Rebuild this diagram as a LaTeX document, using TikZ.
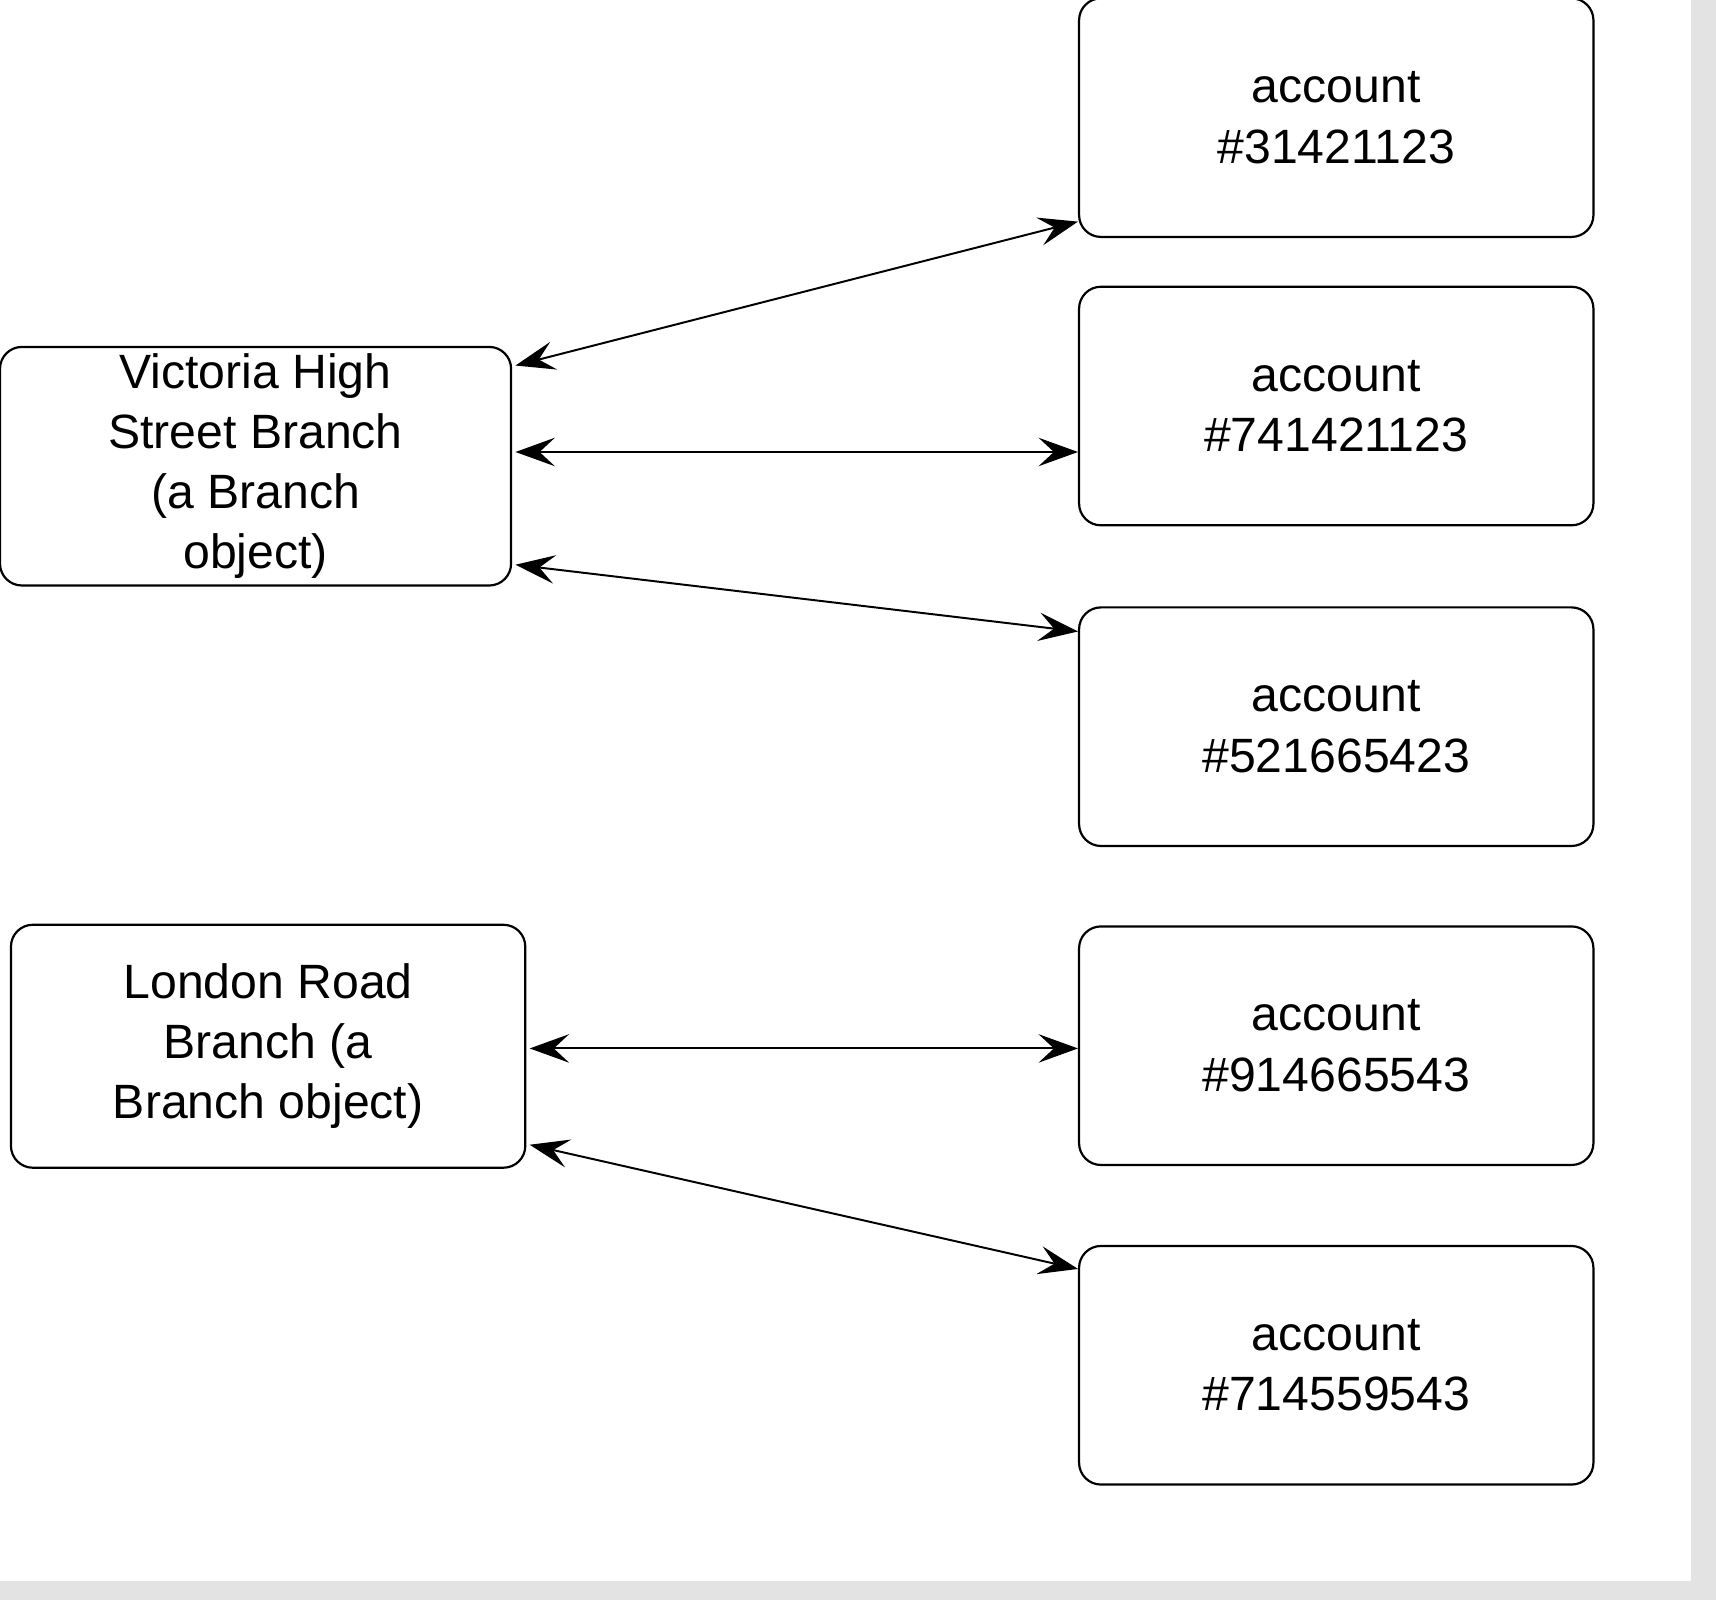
\documentclass[tikz,border=0pt]{standalone}
\usepackage{fontspec}
\setmainfont{Liberation Sans}
\usetikzlibrary{arrows.meta,calc}
\begin{document}
\begin{tikzpicture}[x=0.5pt,y=-0.5pt,
  box/.style={draw,line width=1pt,rounded corners=10pt,align=center,inner sep=0pt,
    font=\fontsize{22}{27.5}\selectfont},
  acc/.style={box,minimum width=235pt,minimum height=109pt},
  link/.style={line width=0.9pt,{Stealth[length=18pt,width=13pt,inset=7pt]}-{Stealth[length=18pt,width=13pt,inset=7pt]}}]
\useasboundingbox (0,0) rectangle (1568,1462);
\fill[gray!22] (1545,0) rectangle (1568,1462);
\fill[gray!22] (0,1445) rectangle (1568,1462);
\node[acc] (a1) at (1221,107.5) {account\\\#31421123};
\node[acc] (a2) at (1221,371) {account\\\#741421123};
\node[acc] (a3) at (1221,664) {account\\\#521665423};
\node[acc] (a4) at (1221,955.5) {account\\\#914665543};
\node[acc] (a5) at (1221,1247.5) {account\\\#714559543};
\node[box,minimum width=233.5pt,minimum height=109pt] (v) at (233.5,426) {Victoria High\\Street Branch\\(a Branch\\object)};
\node[box,minimum width=235pt,minimum height=111pt] (l) at (245,956) {London Road\\Branch (a\\Branch object)};
\draw[link] ($(v.north east)+(3,18)$) -- ($(a1.south west)+(0,-15)$);
\draw[link] ($(v.east)+(3,-13)$) -- ($(a2.west)+(0,42)$);
\draw[link] ($(v.south east)+(3,-20)$) -- ($(a3.north west)+(0,23)$);
\draw[link] ($(l.east)+(3,2)$) -- ($(a4.west)+(0,2.5)$);
\draw[link] ($(l.south east)+(3,-22)$) -- ($(a5.north west)+(0,22)$);
\end{tikzpicture}
\end{document}
